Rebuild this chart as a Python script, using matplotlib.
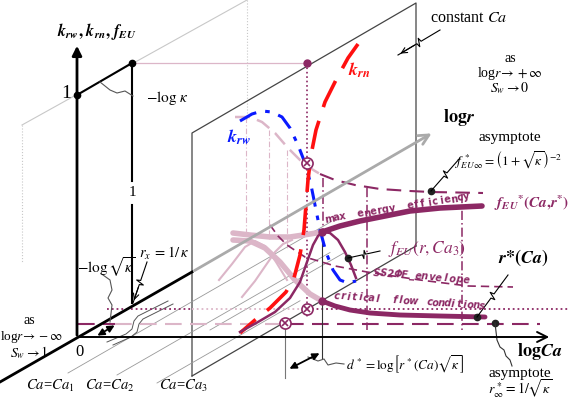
import matplotlib.pyplot as plt
import numpy as np

plt.rcParams['font.family'] = ['Liberation Serif', 'DejaVu Serif']
plt.rcParams['mathtext.fontset'] = 'stix'

PURPLE = '#8c2864'
PINK = '#dcb6c8'
LGRAY = '#c8c8c8'

# curves, pixel coordinates (x, y with y downwards)
krw = [(240, 121), (252, 114), (262, 111), (272, 112), (282, 117), (290, 128), (298, 145), (305, 163),
       (311, 185), (316, 210), (320, 230), (326, 252), (333, 270), (340, 280), (348, 283), (356, 281)]
krn = [(358, 44), (348, 58), (336, 80), (325, 102), (316, 130), (311, 155), (308, 180),
       (306, 205), (304, 230), (300, 255), (294, 278), (286, 292), (270, 308), (255, 320), (240, 333)]
feu_ca3 = [(240, 332), (258, 322), (275, 312), (290, 298), (300, 282), (307, 262), (313, 245),
           (318, 236), (323, 232), (330, 233), (338, 240), (345, 252), (351, 265), (356, 278)]
feu_star = [(322, 232), (340, 226), (360, 221), (380, 217), (410, 211), (440, 208), (482, 206)]
r_star = [(322, 301), (335, 306), (350, 310), (370, 313), (400, 315), (440, 316), (485, 317)]
fade_a = [(233, 233), (250, 235), (270, 237), (290, 237), (310, 234), (322, 232)]
fade_b = [(233, 240), (250, 241), (265, 248), (280, 262), (295, 280), (310, 294), (322, 301)]
fade_c = [(219, 280), (232, 264), (245, 247), (255, 241), (265, 246), (276, 262), (287, 280)]
fade_d = [(242, 297), (255, 281), (266, 265), (275, 252), (283, 244), (292, 240)]
feu_dash_light = [(235, 117), (250, 117), (262, 122), (275, 133), (288, 148), (300, 160),
                  (310, 168), (320, 174)]
feu_dash_dark = [(320, 174), (335, 180), (355, 185), (380, 189), (410, 191), (431, 192), (483, 193)]
ss2_env = [(270, 225), (278, 236), (287, 245), (305, 257), (335, 266), (367, 272),
           (420, 280), (468, 286), (513, 287)]


def xy(pts):
    a = np.array(pts, dtype=float)
    return a[:, 0], a[:, 1]


def letters(ax, s, p, q, **kw):
    # letter-spaced label: characters evenly placed from p to q
    p = np.array(p, float); q = np.array(q, float)
    ang = np.degrees(np.arctan2(-(q[1] - p[1]), q[0] - p[0]))
    n = len(s)
    for i, ch in enumerate(s):
        if ch == ' ':
            continue
        c = p + (q - p) * i / (n - 1)
        ax.text(c[0], c[1], ch, rotation=ang, ha='center', va='center',
                rotation_mode='anchor', **kw)


def zig(ax, p, q, color='black', lw=0.8, arrow=False):
    # straight pointer with a small "N" break in the middle
    p = np.array(p, float); q = np.array(q, float)
    d = q - p
    n = np.array([-d[1], d[0]]) / np.hypot(*d)
    m1 = p + 0.45 * d
    m2 = p + 0.55 * d
    pts = [p, m1, m1 + 4 * n + 0.02 * d, m2 - 4 * n - 0.02 * d, m2, q]
    x, y = xy(pts)
    ax.plot(x, y, color=color, lw=lw)
    if arrow:
        ax.annotate('', xy=q, xytext=m2, arrowprops=dict(arrowstyle='->', color=color, lw=lw))


fig = plt.figure(figsize=(5.68, 4), dpi=100)
ax = fig.add_axes([0, 0, 1, 1])
ax.set_xlim(0, 568)
ax.set_ylim(400, 0)
ax.axis('off')

# background plane Ca1 (light gray)
ax.plot([22, 247], [125, 0], color=LGRAY, lw=0.8)
ax.plot([22, 22], [125, 262], color=LGRAY, lw=0.8, ls=':')
ax.plot([247, 247], [0, 120], color=LGRAY, lw=0.8, ls=':')

# constant Ca plane
ax.plot([192, 192, 416, 416], [376, 133, 3, 246], color='#444444', lw=0.9)
ax.plot([192, 416], [376, 246], color='#444444', lw=0.9)

# floor lines parallel to log r
for x0, y0, x1 in [(68, 373, 330), (117, 375, 330), (157, 383, 300), (210, 330, 345)]:
    ax.plot([x0, x1], [y0, y0 - 0.575 * (x1 - x0)], color='#999999', lw=0.6)
brk1 = [(107, 342), (126, 334), (132, 329), (134, 321), (138, 316), (148, 311), (168, 301)]
brk2 = [(113, 345), (131, 337), (137, 332), (139, 324), (143, 319), (153, 314), (173, 304)]
for b in (brk1, brk2):
    ax.plot(*xy(b), color='#555555', lw=0.7)

# reference lines
ax.plot([132, 307], [63, 63], color=PINK, lw=0.9)
ax.plot([307, 307], [63, 318], color=PURPLE, lw=1.2, ls=':')
ax.plot([107, 192], [309, 309], color=PURPLE, lw=1.3, ls=':')
ax.plot([192, 305], [309, 309], color=PINK, lw=1.3, ls=':')
ax.plot([307, 568], [309, 309], color=PURPLE, lw=1.3, ls=':')
ax.plot([78, 115], [324, 324], color=PURPLE, lw=1.5, dashes=(8, 4))
ax.plot([115, 283], [324, 324], color=PINK, lw=1.5, dashes=(8, 4))
ax.plot([287, 540], [324, 324], color=PURPLE, lw=1.5, dashes=(8, 4))
for xv, y0, y1 in [(246, 117, 232), (269, 130, 240), (287, 150, 250)]:
    ax.plot([xv, xv], [y0, y1], color=PINK, lw=0.8, dashes=(5, 2, 1, 2))
for xv, y0, y1 in [(323, 178, 232), (367, 188, 330), (462, 194, 330)]:
    ax.plot([xv, xv], [y0, y1], color=PURPLE, lw=1.1, dashes=(6, 2, 1, 2))
ax.plot([322, 322], [232, 358], color='#333333', lw=0.8)
ax.plot([285, 285], [324, 378], color='#777777', lw=0.8)

# faded curves for smaller Ca
ax.plot(*xy(fade_a), color=PINK, lw=4, solid_capstyle='round')
ax.plot(*xy(fade_b), color=PINK, lw=4, solid_capstyle='round')
ax.plot(*xy(fade_c), color=PINK, lw=1.5)
ax.plot(*xy(fade_d), color=PINK, lw=1.5)
ax.plot(*xy(feu_dash_light), color=PINK, lw=1.8, dashes=(6, 3))
ax.plot(*xy(feu_dash_dark), color=PURPLE, lw=1.5, dashes=(7, 4))
ax.plot(*xy(ss2_env), color=PURPLE, lw=1.2, dashes=(5, 3))

# axes
ax.annotate('', xy=(77, 43), xytext=(77, 338),
            arrowprops=dict(arrowstyle='-|>', color='black', lw=2, mutation_scale=14))
ax.annotate('', xy=(552, 337), xytext=(77, 337),
            arrowprops=dict(arrowstyle='->', color='black', lw=1.4, mutation_scale=18))
ax.plot([0, 192], [382, 272], color='black', lw=2)
ax.annotate('', xy=(434, 132), xytext=(192, 272),
            arrowprops=dict(arrowstyle='->', color='#aaaaaa', lw=2, mutation_scale=18))
ax.plot([77, 132], [95, 63], color='black', lw=1.5)
ax.plot([132, 132], [63, 181], color='black', lw=1.5)
ax.plot([132, 132], [205, 303], color='black', lw=1.5)

# main curves
ax.plot(*xy(krw), color='#0a1aff', lw=2.2, dashes=(6, 3, 1.5, 3))
ax.plot(*xy(krn), color='#ff1010', lw=2.6, dashes=(8, 4))
ax.plot(*xy(feu_ca3), color=PURPLE, lw=1.8)
ax.plot(*xy(feu_star), color=PURPLE, lw=4, solid_capstyle='round')
ax.plot(*xy(r_star), color=PURPLE, lw=3.5, solid_capstyle='round')

# markers
for mx, my in [(307, 163), (307, 309), (285, 323)]:
    ax.plot(mx, my, 'o', ms=8, mfc='white', mec=PURPLE, mew=1.2)
    ax.plot(mx, my, 'x', ms=5, mec=PURPLE, mew=1.2)
ax.plot([77, 132], [95, 63], 'o', ms=4.5, color='black')
ax.plot([307, 322, 322], [63, 232, 301], 'o', ms=5, color=PURPLE)
ax.plot([431, 348, 477, 495], [191, 258, 317, 323], 'o', ms=4.5, color='#222222')

# pointers
ax.plot([100, 110, 117, 125, 133], [82, 90, 93, 91, 96], color='#555555', lw=0.8)
zig(ax, (440, 30), (398, 55), arrow=True)
zig(ax, (431, 191), (460, 158))
zig(ax, (348, 258), (380, 251))
zig(ax, (477, 317), (508, 275))
ax.plot([495, 497, 500, 504, 506, 510, 512], [323, 340, 347, 350, 356, 360, 366], color='#333333', lw=0.8)
zig(ax, (147, 262), (133, 303), arrow=True)
ax.plot([103, 110, 112, 108, 112, 110], [275, 280, 290, 298, 305, 322], color='#555555', lw=0.8)
ax.plot([308, 318, 324, 328, 336, 344], [357, 361, 359, 365, 363, 364], color='#555555', lw=0.8)
ax.annotate('', xy=(95, 337), xytext=(117, 324),
            arrowprops=dict(arrowstyle='<|-|>', color='black', lw=1.3, mutation_scale=10))
ax.annotate('', xy=(287, 370), xytext=(322, 352),
            arrowprops=dict(arrowstyle='<|-|>', color='black', lw=1.3, mutation_scale=10))

# text
ax.text(57, 32, r'$\mathbfit{k}_{\mathbfit{rw}}\mathbf{,}\ \mathbfit{k}_{\mathbfit{rn}}\mathbf{,}\ \mathbfit{f}_{\mathbfit{EU}}$',
        fontsize=11.5, va='center')
ax.text(66, 94, '1', fontsize=14, ha='center', va='center')
ax.text(146, 98, r'$-\log\,\kappa$', fontsize=11, va='center')
ax.text(132, 192, '1', fontsize=11, ha='center', va='center')
ax.text(227, 137, r'$\mathbfit{k}_{\mathbfit{rw}}$', fontsize=13, color='#0a1aff', va='center')
ax.text(348, 70, r'$\mathbfit{k}_{\mathbfit{rn}}$', fontsize=13, color='#ff1010', va='center')
ax.text(430, 18, r'constant $\mathit{Ca}$', fontsize=11.5, va='center')
ax.text(510, 58, 'as', fontsize=10, ha='center', va='center')
ax.text(510, 73, r'log$\mathit{r}\!\rightarrow +\infty$', fontsize=10, ha='center', va='center')
ax.text(510, 88, r'$\mathit{S_w}\rightarrow 0$', fontsize=10, ha='center', va='center')
ax.text(443, 117, r'$\mathbf{log}\mathbfit{r}$', fontsize=13, va='center')
ax.text(510, 137, 'asymptote', fontsize=11, ha='center', va='center')
ax.text(508, 160, r'$f^{\,*}_{EU\infty}=\left(1+\sqrt{\kappa}\right)^{-2}$', fontsize=9.5,
        ha='center', va='center')
ax.text(494, 203, r'$\mathbfit{f}_{\mathbfit{EU}}{}^{\mathbf{*}}\mathbf{(}\mathbfit{Ca}\mathbf{,}\mathbfit{r}^{\mathbf{*}}\mathbf{)}$',
        fontsize=11, color=PURPLE, va='center')
lab = dict(fontsize=7, color=PURPLE, family='DejaVu Sans', weight='bold')
letters(ax, 'max  energy  efficiency', (330, 219), (466, 197), **lab)
letters(ax, 'SS2ΦF_envelope', (377, 273), (466, 280), style='italic', **lab)
letters(ax, 'critical  flow  conditions', (337, 296), (482, 306), style='italic', **lab)
ax.text(388, 249, r'$\mathit{f}_{EU}(\mathit{r},\mathit{Ca}_3)$', fontsize=12.5, color=PURPLE, va='center')
ax.text(498, 258, r'$\mathbfit{r}\mathbf{*(}\mathbfit{Ca}\mathbf{)}$', fontsize=13, va='center')
ax.text(562, 351, r'$\mathbf{log}\mathbfit{Ca}$', fontsize=13, ha='right', va='center')
ax.text(520, 373, 'asymptote', fontsize=11, ha='center', va='center')
ax.text(520, 389, r'$r^{\,*}_{\infty}=1/\sqrt{\kappa}$', fontsize=10, ha='center', va='center')
ax.text(405, 364, r'$d^{\,*}=\log\!\left[r^{\,*}(Ca)\sqrt{\kappa}\right]$', fontsize=9.5,
        ha='center', va='center')
ax.text(29, 321, 'as', fontsize=10, ha='center', va='center')
ax.text(31, 337, r'log$\mathit{r}\!\rightarrow -\infty$', fontsize=9.5, ha='center', va='center')
ax.text(29, 353, r'$\mathit{S_w}\rightarrow 1$', fontsize=10, ha='center', va='center')
ax.text(80, 352, '0', fontsize=12, ha='center', va='center')
ax.text(106, 267, r'$-\log\sqrt{\kappa}$', fontsize=11, ha='center', va='center')
ax.text(164, 253, r'$r_x\;=1/\,\kappa$', fontsize=10.5, ha='center', va='center')
ax.text(50, 386, r'$\mathit{Ca}$=$\mathit{Ca}_1$', fontsize=10.5, ha='center', va='center')
ax.text(110, 386, r'$\mathit{Ca}$=$\mathit{Ca}_2$', fontsize=10.5, ha='center', va='center')
ax.text(183, 386, r'$\mathit{Ca}$=$\mathit{Ca}_3$', fontsize=10.5, ha='center', va='center')

fig.savefig('out.png', dpi=100)
